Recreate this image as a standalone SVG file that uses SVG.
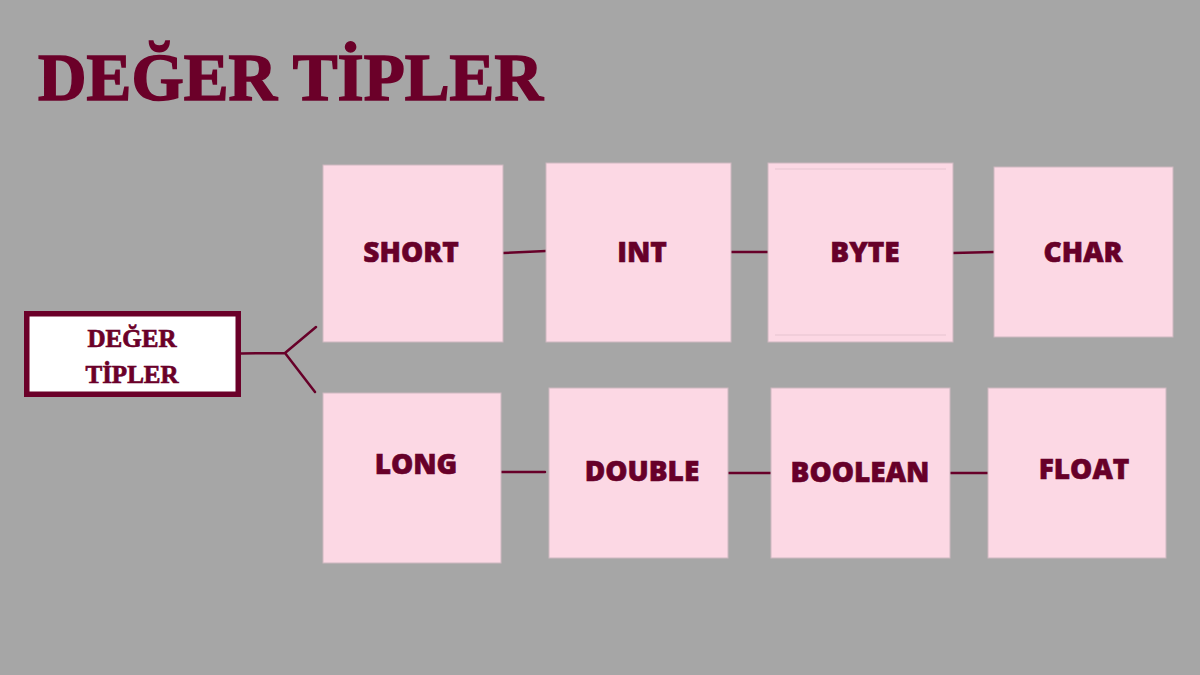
<svg xmlns="http://www.w3.org/2000/svg" width="1200" height="675" viewBox="0 0 1200 675">
<style>
.box{fill:#fcd8e4;stroke:#cdb8c0;stroke-width:1}
.lbl{font-family:"Open Sans","Liberation Sans",sans-serif;font-weight:800;font-size:28px;fill:#670029;stroke:#670029;stroke-width:0.6;text-anchor:middle}
.ser{font-family:"Liberation Serif","DejaVu Serif",serif;font-weight:bold;fill:#6b0029;stroke:#6b0029}
.con{stroke:#670029;stroke-width:2.5;fill:none;stroke-linecap:round}
</style>
<rect width="1200" height="675" fill="#a6a6a6"/>
<text class="ser" x="38" y="100" font-size="68" stroke-width="1.6" textLength="505" lengthAdjust="spacingAndGlyphs">DEĞER TİPLER</text>
<g id="connectors">
<path class="con" d="M241 353.5 L285 353 M285 353 L316 327 M285 353 L315 392" stroke-width="3.2"/>
<line class="con" x1="503" y1="253" x2="546" y2="251"/>
<line class="con" x1="731" y1="252" x2="768" y2="252"/>
<line class="con" x1="953" y1="253" x2="994" y2="252"/>
<line class="con" x1="501" y1="472" x2="545" y2="472"/>
<line class="con" x1="728" y1="473" x2="771" y2="473"/>
<line class="con" x1="950" y1="473" x2="988" y2="473"/>
</g>
<g id="root">
<rect x="26.75" y="313.75" width="211.5" height="80.5" fill="#ffffff" stroke="#6b0029" stroke-width="5.5"/>
<text class="ser" x="132" y="347" font-size="25" stroke-width="0.7" text-anchor="middle">DEĞER</text>
<text class="ser" x="132" y="383" font-size="25" stroke-width="0.7" text-anchor="middle">TİPLER</text>
</g>
<g id="short"><rect class="box" x="323" y="165" width="180" height="177"/><text class="lbl" x="411" y="262">SHORT</text></g>
<g id="int"><rect class="box" x="546" y="163" width="185" height="179"/><text class="lbl" x="642" y="262">INT</text></g>
<g id="byte"><rect class="box" x="768" y="163" width="185" height="179"/>
<line x1="775" y1="169" x2="946" y2="169" stroke="#e6c4d0" stroke-width="1"/>
<line x1="775" y1="335" x2="946" y2="335" stroke="#e6c4d0" stroke-width="1"/>
<text class="lbl" x="865" y="262">BYTE</text></g>
<g id="char"><rect class="box" x="994" y="167" width="179" height="170"/><text class="lbl" x="1083" y="262">CHAR</text></g>
<g id="long"><rect class="box" x="323" y="393" width="178" height="170"/><text class="lbl" x="416" y="474">LONG</text></g>
<g id="double"><rect class="box" x="549" y="388" width="179" height="170"/><text class="lbl" x="642" y="481">DOUBLE</text></g>
<g id="boolean"><rect class="box" x="771" y="388" width="179" height="170"/><text class="lbl" x="860" y="482">BOOLEAN</text></g>
<g id="float"><rect class="box" x="988" y="388" width="178" height="170"/><text class="lbl" x="1084" y="479">FLOAT</text></g>
</svg>
